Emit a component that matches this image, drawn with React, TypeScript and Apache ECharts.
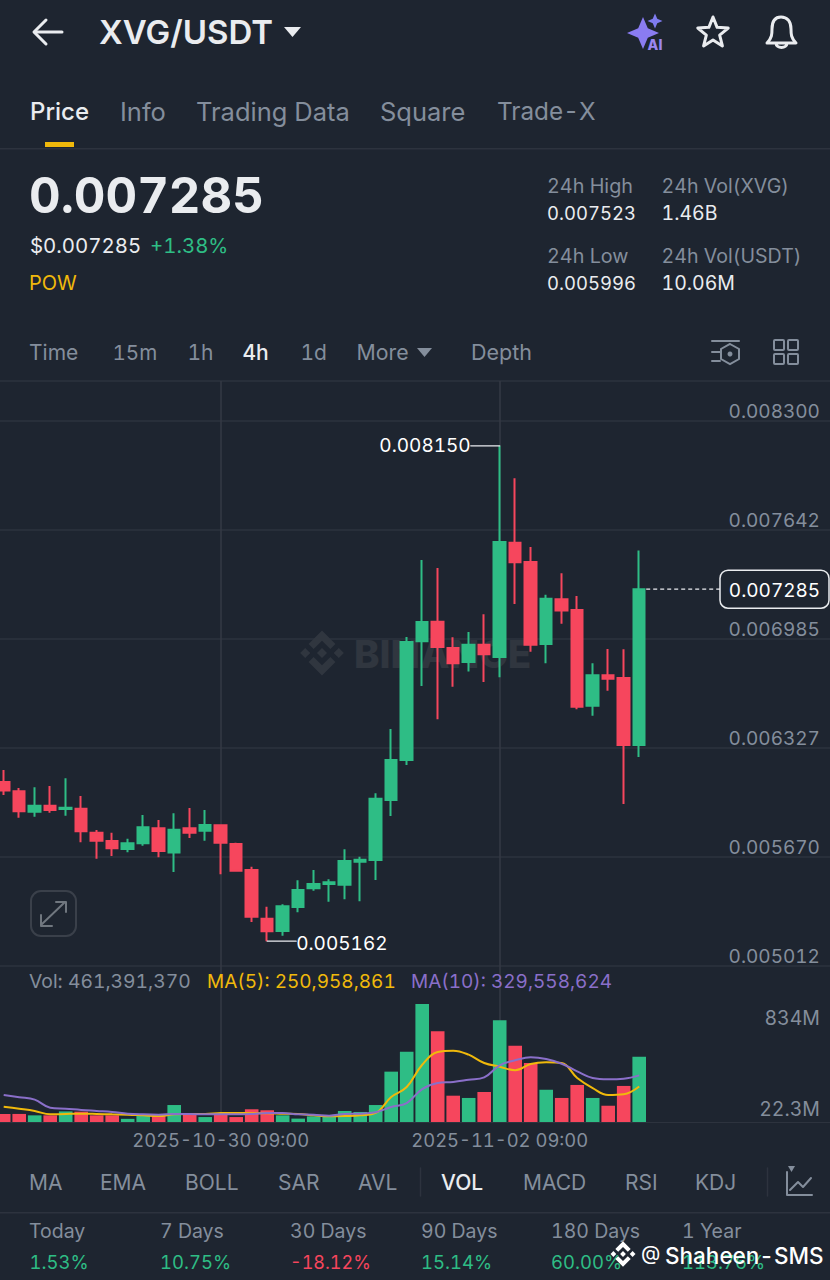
import React, { useEffect, useRef } from "react";
import * as echarts from "echarts";

const times = [
  "2025-10-28 01:00","2025-10-28 05:00","2025-10-28 09:00","2025-10-28 13:00","2025-10-28 17:00","2025-10-28 21:00",
  "2025-10-29 01:00","2025-10-29 05:00","2025-10-29 09:00","2025-10-29 13:00","2025-10-29 17:00","2025-10-29 21:00",
  "2025-10-30 01:00","2025-10-30 05:00","2025-10-30 09:00","2025-10-30 13:00","2025-10-30 17:00","2025-10-30 21:00",
  "2025-10-31 01:00","2025-10-31 05:00","2025-10-31 09:00","2025-10-31 13:00","2025-10-31 17:00","2025-10-31 21:00",
  "2025-11-01 01:00","2025-11-01 05:00","2025-11-01 09:00","2025-11-01 13:00","2025-11-01 17:00","2025-11-01 21:00",
  "2025-11-02 01:00","2025-11-02 05:00","2025-11-02 09:00","2025-11-02 13:00","2025-11-02 17:00","2025-11-02 21:00",
  "2025-11-03 01:00","2025-11-03 05:00","2025-11-03 09:00","2025-11-03 13:00","2025-11-03 17:00","2025-11-03 21:00",
];
const markedTimes = ["2025-10-30 09:00", "2025-11-02 09:00"];
const emptySlots = 12;

// open, close, low, high (in millionths)
const ohlcMicro = [
  [6122,6070,6044,6194],[6066,5945,5907,6086],[5943,5979,5913,6090],[5979,5953,5937,6098],[5959,5967,5919,6144],
  [5961,5825,5758,6038],[5816,5768,5659,5832],[5766,5722,5676,5816],[5718,5752,5698,5780],[5752,5849,5738,5923],
  [5843,5706,5668,5893],[5696,5834,5579,5933],[5843,5816,5784,5965],[5828,5863,5768,5953],[5861,5756,5565,5861],
  [5748,5587,5581,5756],[5591,5309,5277,5611],[5297,5221,5162,5370],[5223,5372,5195,5384],[5368,5471,5336,5529],
  [5481,5507,5466,5591],[5507,5517,5400,5535],[5502,5645,5414,5716],[5641,5653,5402,5671],[5651,6021,5531,6054],
  [6013,6255,5917,6442],[6255,6967,6225,6997],[6971,7087,6701,7461],[7089,6937,6500,7413],[6930,6838,6697,6995],
  [6846,6950,6788,7027],[6950,6892,6725,7134],[6876,7570,6754,8150],[7566,7447,7196,7954],[7449,6950,6908,7540],
  [6955,7228,6838,7252],[7224,7156,7077,7381],[7160,6576,6561,7244],[6582,6766,6522,6838],[6766,6745,6673,6924],
  [6750,6345,5989,6923],[6345,7285,6273,7518],
];
// volume in millions
const volumes = [57,57,47,47,75,73,47,47,22.3,47,42,120,52,35,52,35,90,83,47,24,40,42,78,71,120,356,497,834,641,186,170,212,719,539,417,228,170,262,170,115,255,461.39];
const ma5 = [108,94,78,54,57,59,57,54,52,47,42,54,57,57,64,64,62,62,59,57,47,40,42,47,64,177,247,405,495,504,476,417,391,366,410,422,417,311,240,191,196,250.96];
const ma10 = [191,175,158,101,94,85,78,71,59,54,52,57,57,54,54,54,57,64,64,54,52,45,57,59,69,106,134,233,276,283,299,316,401,436,457,445,412,358,311,302,306,329.56];

const priceMin = 0.005012, priceStep = 0.0006576, priceMax = 0.008541;
const volMax = 1103, volLabels = [22.3, 834];
const lastPrice = 0.007285, highPrice = 0.00815, lowPrice = 0.005162;

const BG = "#1e2530", GRAY = "#848e9c", WHITE = "#eaecef", GREEN = "#2ebd85", RED = "#f6465d", YEL = "#f0b90b", PUR = "#8a6fc9", LINE = "#2d333e";
const FONT = "Inter";

const T = (x: number, y: number, text: string, size: number, fill = GRAY, fontWeight: any = 400, align = "left", z = 20) => ({
  type: "text", x, y, z, silent: true,
  style: { text, fontSize: size, fill, fontWeight, fontFamily: FONT, textAlign: align, textVerticalAlign: "middle" },
});
const stroke = (c: string, w = 3) => ({ stroke: c, lineWidth: w, fill: "none", lineCap: "round", lineJoin: "round" });
const PL = (pts: number[][], c: string, w = 3, z = 20) => ({ type: "polyline", z, shape: { points: pts }, style: stroke(c, w), silent: true });
const PG = (pts: number[][], c: string, z = 20) => ({ type: "polygon", z, shape: { points: pts }, style: { fill: c }, silent: true });
const RR = (x: number, y: number, w: number, h: number, r: number, c: string, lw = 2, fill = "none", z = 20) => ({
  type: "rect", z, shape: { x, y, width: w, height: h, r }, style: { stroke: c, lineWidth: lw, fill }, silent: true,
});
const sparkle = (cx: number, cy: number, r: number, c: string) => {
  const k = r * 0.3;
  return PG([[cx, cy - r],[cx + k, cy - k],[cx + r, cy],[cx + k, cy + k],[cx, cy + r],[cx - k, cy + k],[cx - r, cy],[cx - k, cy - k]], c);
};
const star = (cx: number, cy: number, R: number, r: number) => {
  const pts: number[][] = [];
  for (let i = 0; i < 10; i++) {
    const a = -Math.PI / 2 + (i * Math.PI) / 5, q = i % 2 ? r : R;
    pts.push([cx + q * Math.cos(a), cy + q * Math.sin(a)]);
  }
  return pts;
};
const logo = (cx: number, cy: number, u: number, c: string, z: number) => {
  const d = (x: number, y: number, r: number) => PG([[x, y - r],[x + r, y],[x, y + r],[x - r, y]], c, z);
  const chev = (s: number) => PG([
    [cx, cy + s * 4 * u],[cx + 2.4 * u, cy + s * 1.6 * u],[cx + 1.5 * u, cy + s * 0.7 * u],[cx, cy + s * 2.2 * u],[cx - 1.5 * u, cy + s * 0.7 * u],[cx - 2.4 * u, cy + s * 1.6 * u],
  ], c, z);
  return [d(cx, cy, 0.9 * u), d(cx - 3 * u, cy, 0.9 * u), d(cx + 3 * u, cy, 0.9 * u), chev(-1), chev(1)];
};
echarts.graphic.registerShape("bellIcon", echarts.graphic.extendPath(
  "M767 43C772 38 772 34 772 29C772 21 775 17 781 17C787 17 791 21 791 29C791 34 791 38 796 43ZM776 43C776 49 787 49 787 43",
  {},
));

const staticGraphics = (): any[] => {
  const g: any[] = [];
  // header
  g.push(PL([[35, 32],[62, 32]], WHITE), PL([[46, 20],[34, 32],[46, 44]], WHITE));
  g.push(T(99, 32, "XVG/USDT", 33, WHITE, 600));
  g.push(PG([[284, 27],[301, 27],[292.5, 37]], WHITE));
  g.push(sparkle(643, 33, 16, "#8a7cf2"), sparkle(655, 21, 7.5, "#7f7cf0"));
  g.push(T(655, 44, "AI", 14, "#9a86f0", 800, "center"));
  g.push({ type: "polygon", z: 20, shape: { points: star(713, 33, 16, 7) }, style: { stroke: WHITE, lineWidth: 3, fill: "none", lineJoin: "round" }, silent: true });
  g.push({ type: "bellIcon", z: 20, style: { stroke: WHITE, lineWidth: 3, fill: "none", lineJoin: "round" }, silent: true });
  // tabs
  g.push(T(30, 111, "Price", 24, WHITE, 500), T(120, 111, "Info", 25.5), T(196, 111, "Trading Data", 25.5), T(380, 111, "Square", 25.5), T(497, 111, "Trade-X", 24.3));
  g.push({ type: "rect", z: 20, shape: { x: 45, y: 142, width: 29, height: 5 }, style: { fill: YEL }, silent: true });
  g.push({ type: "rect", z: 20, shape: { x: 0, y: 148, width: 830, height: 1.5 }, style: { fill: LINE }, silent: true });
  // price block
  g.push(T(29, 195, "0.007285", 49, WHITE, 700));
  g.push(T(30, 245, "$0.007285", 20.4, WHITE), T(150, 245, "+1.38%", 20.4, GREEN));
  g.push(T(29, 283, "POW", 20, YEL));
  g.push(T(547, 186, "24h High", 19.8), T(547, 213, "0.007523", 18.5, WHITE), T(661.5, 186, "24h Vol(XVG)", 19.6), T(661.5, 213, "1.46B", 19.5, WHITE));
  g.push(T(547, 256, "24h Low", 19.8), T(547, 283, "0.005996", 18.5, WHITE), T(661.5, 256, "24h Vol(USDT)", 19.6), T(661.5, 283, "10.06M", 19.5, WHITE));
  // intervals
  g.push(T(29, 352, "Time", 21), T(112.5, 352, "15m", 20.6), T(187.5, 352, "1h", 21), T(242.5, 352, "4h", 21, WHITE, 500), T(300.5, 352, "1d", 21), T(356.5, 352, "More", 21.3), T(471, 352, "Depth", 21.5));
  g.push(PG([[417, 348],[432, 348],[424.5, 357]], GRAY));
  g.push(PL([[712, 341],[739, 341]], GRAY, 2), PL([[712, 352],[720, 352]], GRAY, 2), PL([[712, 361],[720, 361]], GRAY, 2));
  g.push({ type: "polygon", z: 20, shape: { points: [[730, 344],[739, 349],[739, 359],[730, 364],[721, 359],[721, 349]] }, style: { stroke: GRAY, lineWidth: 2, fill: "none" }, silent: true });
  g.push({ type: "circle", z: 20, shape: { cx: 730, cy: 354, r: 2.5 }, style: { fill: GRAY }, silent: true });
  g.push(RR(774, 340, 10, 10, 1, GRAY), RR(788, 340, 10, 10, 1, GRAY), RR(774, 354, 10, 10, 1, GRAY), RR(788, 354, 10, 10, 1, GRAY));
  // watermark
  g.push(...logo(322, 653, 5.6, "#30363f", 0));
  g.push({ type: "text", x: 354, y: 654, z: 0, silent: true, style: { text: "BINANCE", fontSize: 38.5, fontWeight: 800, fill: "#30363f", fontFamily: FONT, textAlign: "left", textVerticalAlign: "middle" } });
  // expand button
  g.push(RR(31, 891, 45, 45, 10, "#3a404a", 2));
  g.push(PL([[41, 925],[65, 902]], "#70777f", 2), PL([[56, 902],[66, 902],[66, 912]], "#70777f", 2), PL([[41, 915],[41, 926],[52, 926]], "#70777f", 2));
  // volume header
  g.push(T(29, 981, "Vol: 461,391,370", 19.3), T(207, 981, "MA(5): 250,958,861", 19, YEL), T(411, 981, "MA(10): 329,558,624", 19, PUR));
  // indicator tabs
  g.push(T(29, 1182, "MA", 21), T(100, 1182, "EMA", 21), T(185, 1182, "BOLL", 21), T(278, 1182, "SAR", 21), T(358, 1182, "AVL", 21));
  g.push(T(441, 1182, "VOL", 21, WHITE, 500), T(523, 1182, "MACD", 21), T(625, 1182, "RSI", 21), T(695, 1182, "KDJ", 21));
  g.push(PL([[420.5, 1168],[420.5, 1196]], LINE, 1.5), PL([[767.5, 1168],[767.5, 1196]], LINE, 1.5));
  g.push(PL([[787, 1172],[787, 1195],[812, 1195]], GRAY, 2), PL([[790, 1190],[798, 1182],[803, 1187],[811, 1178]], GRAY, 2), PG([[788, 1166],[795, 1166],[791.5, 1172]], GRAY));
  g.push({ type: "rect", z: 20, shape: { x: 0, y: 1212, width: 830, height: 1.5 }, style: { fill: LINE }, silent: true });
  // performance row
  g.push(T(29, 1231, "Today", 19.5), T(160, 1231, "7 Days", 19.5), T(290, 1231, "30 Days", 19.5), T(421, 1231, "90 Days", 19.5), T(551, 1231, "180 Days", 19.5), T(682, 1231, "1 Year", 19.5));
  g.push(T(29.5, 1262, "1.53%", 18.5, GREEN), T(160, 1262, "10.75%", 18.5, GREEN), T(290, 1262, "-18.12%", 18, RED), T(421, 1262, "15.14%", 18.5, GREEN), T(551, 1262, "60.00%", 18.5, GREEN), T(682, 1262, "113.76%", 18.5, GREEN));
  // overlay signature
  g.push(...logo(623, 1254, 3.2, "#ffffff", 30));
  g.push(T(641, 1253, "@", 20, "#ffffff", 400, "left", 30), T(665, 1255, "Shaheen-SMS", 22.5, "#ffffff", 500, "left", 30));
  return g;
};

export default function App() {
  const ref = useRef<HTMLDivElement>(null);
  useEffect(() => {
    document.body.style.margin = "0";
    document.body.style.background = BG;
    const chart = echarts.init(ref.current!, undefined, { renderer: "svg" });
    const cats = [...times, ...Array(emptySlots).fill("")];
    const gridX = { left: -4.05, width: 837, outerBoundsMode: "none" };
    const vLines = (z = 1) => ({
      silent: true, symbol: "none", z, label: { show: false },
      lineStyle: { color: "#343a45", width: 1.5, type: "solid" },
      data: markedTimes.map((t) => ({ xAxis: t })),
    });
    const labelStyle = { fontFamily: FONT, fontSize: 19, color: GRAY };
    chart.setOption({
      animation: false,
      backgroundColor: BG,
      textStyle: { fontFamily: FONT },
      grid: [
        { ...gridX, top: 381, height: 585 },
        { ...gridX, top: 966, height: 156 },
      ],
      xAxis: [0, 1].map((i) => ({
        type: "category", gridIndex: i, data: cats, boundaryGap: true,
        axisLine: { show: i === 1, lineStyle: { color: LINE, width: 1 } }, axisTick: { show: false }, splitLine: { show: false },
        axisLabel: i === 1
          ? { ...labelStyle, fontSize: 18.4, margin: 9, interval: (_: number, v: string) => markedTimes.includes(v) }
          : { show: false },
      })),
      yAxis: [
        {
          type: "value", gridIndex: 0, position: "right", min: priceMin, max: priceMax, interval: priceStep,
          axisLine: { show: false }, axisTick: { show: false },
          splitLine: { show: true, lineStyle: { color: LINE, width: 1.5 } },
          axisLabel: {
            ...labelStyle, inside: true, margin: 13, align: "right", verticalAlign: "bottom",
            formatter: (v: number) => (v > 0.0084 ? "" : v.toFixed(6)),
          },
        },
        {
          type: "value", gridIndex: 1, position: "right", min: 0, max: volMax,
          axisLine: { show: false }, axisTick: { show: false }, splitLine: { show: false },
          axisLabel: {
            ...labelStyle, inside: true, margin: 13, align: "right", customValues: volLabels,
            formatter: (v: number) => (v > 100 ? `{a|${v}M}` : `{b|${v}M}`),
            rich: {
              a: { ...labelStyle, fontSize: 19.5, padding: [28, 0, 0, 0] },
              b: { ...labelStyle, fontSize: 19.5, padding: [0, 0, 20, 0] },
            },
          },
        },
      ],
      series: [
        {
          type: "candlestick", xAxisIndex: 0, yAxisIndex: 0, z: 3, barWidth: 12,
          itemStyle: { color: GREEN, color0: RED, borderColor: GREEN, borderColor0: RED, borderWidth: 2 },
          data: ohlcMicro.map((r) => r.map((v) => v / 1e6)),
          markLine: vLines(),
        },
        {
          type: "bar", xAxisIndex: 1, yAxisIndex: 1, z: 3, barWidth: 13.6,
          data: volumes.map((v, i) => ({
            value: v,
            itemStyle: { color: ohlcMicro[i][1] >= ohlcMicro[i][0] ? GREEN : RED },
          })),
          markLine: vLines(),
        },
        { type: "line", xAxisIndex: 1, yAxisIndex: 1, z: 4, data: ma5, smooth: 0.4, symbol: "none", lineStyle: { color: YEL, width: 2 } },
        { type: "line", xAxisIndex: 1, yAxisIndex: 1, z: 4, data: ma10, smooth: 0.4, symbol: "none", lineStyle: { color: PUR, width: 2 } },
      ],
    });

    const px = (idx: number, price: number) => chart.convertToPixel({ gridIndex: 0 }, [idx, price]) as number[];
    const hiIdx = ohlcMicro.findIndex((r) => r[3] / 1e6 === highPrice);
    const loIdx = ohlcMicro.findIndex((r) => r[2] / 1e6 === lowPrice);
    const lastIdx = ohlcMicro.length - 1;
    const [hx, hy] = px(hiIdx, highPrice);
    const [lx, ly] = px(loIdx, lowPrice);
    const [cx, cy] = px(lastIdx, lastPrice);
    const dyn: any[] = [
      PL([[hx - 29, hy],[hx, hy]], WHITE, 1.2, 10),
      T(hx - 29, hy, highPrice.toFixed(6), 19, "#ffffff", 400, "right", 10),
      PL([[lx, ly],[lx + 29, ly]], WHITE, 1.2, 10),
      T(lx + 29, ly + 2, lowPrice.toFixed(6), 19, "#ffffff", 400, "left", 10),
      { type: "line", z: 10, silent: true, shape: { x1: cx + 7, y1: cy, x2: 720, y2: cy }, style: { stroke: WHITE, lineWidth: 1.2, lineDash: [4, 3] } },
      RR(720, cy - 19, 109, 38, 8, WHITE, 1.5, BG, 10),
      T(774.5, cy + 1, lastPrice.toFixed(6), 19, "#ffffff", 400, "center", 11),
    ];
    chart.setOption({ graphic: { elements: [...staticGraphics(), ...dyn] } });
    return () => chart.dispose();
  }, []);
  return (
    <>
      <style>{"svg text { font-variant-numeric: tabular-nums; font-feature-settings: 'tnum' 1; }"}</style>
      <div ref={ref} style={{ position: "absolute", left: 0, top: 0, width: 830, height: 1280 }} />
    </>
  );
}
